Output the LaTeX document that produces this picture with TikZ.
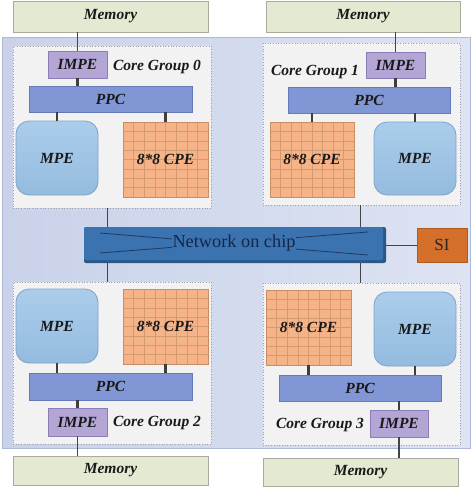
\documentclass[tikz,border=0pt]{standalone}
\usepackage{fontspec}
\setmainfont{Liberation Serif}
\usetikzlibrary{calc}
\definecolor{memfill}{HTML}{E4EAD2}
\definecolor{memdraw}{HTML}{A8AC9C}
\definecolor{panelL}{HTML}{C9D2EA}
\definecolor{panelR}{HTML}{DDE3F2}
\definecolor{paneldraw}{HTML}{AEB9D6}
\definecolor{cgfill}{HTML}{F2F2F3}
\definecolor{cgdraw}{HTML}{A0A0A8}
\definecolor{impefill}{HTML}{B3A6D4}
\definecolor{impedraw}{HTML}{8C7DB8}
\definecolor{ppcfill}{HTML}{8196D4}
\definecolor{ppcdraw}{HTML}{6478BC}
\definecolor{mpetop}{HTML}{ABCDEB}
\definecolor{mpebot}{HTML}{94BBDF}
\definecolor{mpedraw}{HTML}{7EA3C8}
\definecolor{cpefill}{HTML}{F5B387}
\definecolor{cpegrid}{HTML}{D39A70}
\definecolor{cpedraw}{HTML}{C98E63}
\definecolor{nocfill}{HTML}{3A73AF}
\definecolor{nocdark}{HTML}{2A5888}
\definecolor{nocline}{HTML}{1E3A63}
\definecolor{noctext}{HTML}{16264A}
\definecolor{sifill}{HTML}{D4702C}
\definecolor{sidraw}{HTML}{B25A1E}
\definecolor{wire}{HTML}{454545}
\tikzset{
  lbl/.style={font=\bfseries\itshape\fontsize{15.5}{18}\selectfont, text=black!90},
  membox/.style={draw=memdraw, fill=memfill, line width=0.8pt, lbl, inner sep=0pt},
  cgbox/.style={draw=cgdraw, fill=cgfill, dotted, line width=0.7pt, inner sep=0pt},
  impebox/.style={draw=impedraw, fill=impefill, line width=0.8pt, lbl, inner sep=0pt},
  ppcbox/.style={draw=ppcdraw, fill=ppcfill, line width=0.8pt, lbl, inner sep=0pt},
  mpebox/.style={draw=mpedraw, top color=mpetop, bottom color=mpebot, rounded corners=13pt, line width=0.8pt, lbl, inner sep=0pt},
  cpebox/.style={draw=cpedraw, fill=cpefill, line width=0.7pt, lbl, inner sep=0pt,
    path picture={
      \foreach \i in {1,...,7}{
        \draw[cpegrid, line width=0.5pt]
          ($(path picture bounding box.south west)!\i/8!(path picture bounding box.south east)$) --
          ($(path picture bounding box.north west)!\i/8!(path picture bounding box.north east)$);
        \draw[cpegrid, line width=0.5pt]
          ($(path picture bounding box.south west)!\i/8!(path picture bounding box.north west)$) --
          ($(path picture bounding box.south east)!\i/8!(path picture bounding box.north east)$);
      }
    }},
  cglabel/.style={lbl, inner sep=1pt},
  thinwire/.style={draw=wire, line width=1.3pt},
  thickwire/.style={draw=wire!90!black, line width=2.4pt},
}
\begin{document}
\begin{tikzpicture}[x=1pt, y=-1pt]
\useasboundingbox (0,0) rectangle (474,490);
% outer panel
\node[draw=paneldraw, left color=panelL, right color=panelR, line width=0.8pt,
      minimum width=468pt, minimum height=411pt, inner sep=0pt] (chip) at (236,242.5) {};

% memories
\node[membox, minimum width=195pt, minimum height=31pt] (mem0) at (110.5,16.5) {Memory};
\node[membox, minimum width=194pt, minimum height=31pt] (mem1) at (363,16.5) {Memory};
\node[membox, minimum width=195pt, minimum height=29pt] (mem2) at (110.5,470.5) {Memory};
\node[membox, minimum width=195pt, minimum height=28pt] (mem3) at (360.5,472) {Memory};

% core group boxes
\node[cgbox, minimum width=198pt, minimum height=162pt] (cg0) at (112,127) {};
\node[cgbox, minimum width=197pt, minimum height=162pt] (cg1) at (361.5,124) {};
\node[cgbox, minimum width=198pt, minimum height=162pt] (cg2) at (112,363) {};
\node[cgbox, minimum width=197pt, minimum height=162pt] (cg3) at (361.5,364) {};

% Core group 0
\node[impebox, minimum width=59pt, minimum height=27pt] (imp0) at (77.5,64.5) {IMPE};
\node[cglabel] (t0) at (157,67) {Core Group 0};
\node[ppcbox, minimum width=163pt, minimum height=26pt] (ppc0) at (110.5,99) {PPC};
\node[mpebox, minimum width=82pt, minimum height=74pt] (mpe0) at (57,158) {MPE};
\node[cpebox, minimum width=85pt, minimum height=75pt] (cpe0) at (165.5,159.5) {8*8 CPE};

% Core group 1
\node[impebox, minimum width=59pt, minimum height=26pt] (imp1) at (395.5,65) {IMPE};
\node[cglabel] (t1) at (315,72) {Core Group 1};
\node[ppcbox, minimum width=162pt, minimum height=26pt] (ppc1) at (369,100) {PPC};
\node[cpebox, minimum width=84pt, minimum height=75pt] (cpe1) at (312,159.5) {8*8 CPE};
\node[mpebox, minimum width=82pt, minimum height=73pt] (mpe1) at (415,158.5) {MPE};

% Core group 2
\node[mpebox, minimum width=82pt, minimum height=74pt] (mpe2) at (57,326) {MPE};
\node[cpebox, minimum width=85pt, minimum height=75pt] (cpe2) at (165.5,326.5) {8*8 CPE};
\node[ppcbox, minimum width=163pt, minimum height=27pt] (ppc2) at (110.5,386.5) {PPC};
\node[impebox, minimum width=59pt, minimum height=28pt] (imp2) at (77.5,422) {IMPE};
\node[cglabel] (t2) at (157,423) {Core Group 2};

% Core group 3
\node[cpebox, minimum width=85pt, minimum height=75pt] (cpe3) at (308.5,327.5) {8*8 CPE};
\node[mpebox, minimum width=82pt, minimum height=74pt] (mpe3) at (415,329) {MPE};
\node[ppcbox, minimum width=162pt, minimum height=26pt] (ppc3) at (360,388) {PPC};
\node[impebox, minimum width=58pt, minimum height=27pt] (imp3) at (399,423.5) {IMPE};
\node[cglabel] (t3) at (320,425) {Core Group 3};

% Network on chip
\node[fill=nocdark, rounded corners=2pt, minimum width=302pt, minimum height=36pt, inner sep=0pt] (nocsh) at (235,245) {};
\node[fill=nocfill, rounded corners=2pt, minimum width=299pt, minimum height=33pt, inner sep=0pt] (noc) at (233.5,243.5) {};
\coordinate (nA) at (100,233);
\coordinate (nB) at (368,255);
\coordinate (nC) at (100,253);
\coordinate (nD) at (368,232);
\draw[nocline, line width=0.8pt] (nA) -- (nB);
\draw[nocline, line width=0.8pt] (nC) -- (nD);
\node[fill=nocfill, inner sep=1pt, text=noctext, font=\fontsize{18.3}{20}\selectfont] (noct) at (234,243) {Network on chip};

% SI
\node[draw=sidraw, fill=sifill, line width=0.8pt, minimum width=50pt, minimum height=34pt,
      inner sep=0pt, font=\fontsize{17}{20}\selectfont, text=black!85] (si) at (442,245) {SI};

% wires
\draw[thinwire] (imp0.north) -- (imp0.north |- mem0.south);
\draw[thinwire] (imp1.north) -- (imp1.north |- mem1.south);
\draw[thinwire] (imp2.south) -- (imp2.south |- mem2.north);
\draw[thinwire] (imp3.south) -- (imp3.south |- mem3.north);

\draw[thickwire] (imp0.south) -- (imp0.south |- ppc0.north);
\draw[thickwire] (mpe0.north) -- (mpe0.north |- ppc0.south);
\draw[thickwire] (cpe0.north) -- (cpe0.north |- ppc0.south);

\draw[thickwire] (imp1.south) -- (imp1.south |- ppc1.north);
\draw[thickwire] (cpe1.north) -- (cpe1.north |- ppc1.south);
\draw[thickwire] (mpe1.north) -- (mpe1.north |- ppc1.south);

\draw[thickwire] (imp2.north) -- (imp2.north |- ppc2.south);
\draw[thickwire] (mpe2.south) -- (mpe2.south |- ppc2.north);
\draw[thickwire] (cpe2.south) -- (cpe2.south |- ppc2.north);

\draw[thickwire] (imp3.north) -- (imp3.north |- ppc3.south);
\draw[thickwire] (cpe3.south) -- (cpe3.south |- ppc3.north);
\draw[thickwire] (mpe3.south) -- (mpe3.south |- ppc3.north);

\coordinate (lx) at (107,0);
\coordinate (rx) at (360,0);
\draw[thinwire, line width=1pt] (cg0.south -| lx) -- (nocsh.north -| lx);
\draw[thinwire, line width=1pt] (cg2.north -| lx) -- (nocsh.south -| lx);
\draw[thinwire, line width=1pt] (cg1.south -| rx) -- (nocsh.north -| rx);
\draw[thinwire, line width=1pt] (cg3.north -| rx) -- (nocsh.south -| rx);
\draw[thinwire, line width=1pt] (si.west) -- (si.west -| nocsh.east);
\end{tikzpicture}
\end{document}
